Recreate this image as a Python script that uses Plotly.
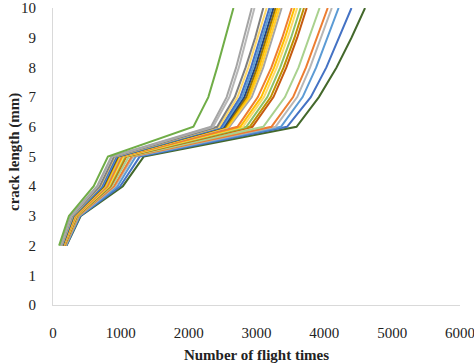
import plotly.graph_objects as go

crack_mm = [2, 3, 4, 5, 6, 7, 8, 9, 10]

s01 = [90, 235, 600, 810, 2070, 2290, 2420, 2540, 2660]
s02 = [110, 260, 650, 860, 2330, 2560, 2700, 2820, 2930]
s03 = [115, 270, 660, 870, 2360, 2600, 2740, 2860, 2970]
s04 = [120, 280, 690, 900, 2420, 2680, 2840, 2980, 3100]
s05 = [125, 285, 700, 910, 2450, 2720, 2880, 3020, 3150]
s06 = [130, 290, 720, 930, 2480, 2760, 2920, 3060, 3190]
s07 = [130, 295, 730, 940, 2500, 2790, 2950, 3090, 3220]
s08 = [135, 300, 740, 950, 2520, 2820, 2980, 3120, 3250]
s09 = [140, 305, 750, 960, 2540, 2850, 3010, 3150, 3280]
s10 = [140, 310, 760, 970, 2560, 2880, 3040, 3180, 3310]
s11 = [145, 315, 770, 980, 2580, 2900, 3070, 3210, 3340]
s12 = [150, 320, 780, 990, 2600, 2930, 3100, 3240, 3370]
s13 = [155, 330, 800, 1010, 2720, 3020, 3220, 3380, 3520]
s14 = [155, 335, 810, 1020, 2760, 3070, 3260, 3420, 3560]
s15 = [160, 340, 820, 1040, 2800, 3110, 3300, 3460, 3600]
s16 = [160, 345, 830, 1050, 2850, 3160, 3350, 3510, 3650]
s17 = [165, 350, 840, 1070, 2900, 3210, 3400, 3560, 3700]
s18 = [170, 355, 850, 1080, 2940, 3250, 3440, 3600, 3740]
s19 = [175, 365, 870, 1120, 3100, 3420, 3620, 3780, 3930]
s20 = [180, 375, 900, 1160, 3220, 3540, 3730, 3890, 4050]
s21 = [185, 380, 920, 1180, 3280, 3600, 3790, 3950, 4110]
s22 = [190, 390, 950, 1220, 3360, 3680, 3880, 4050, 4210]
s23 = [195, 400, 990, 1280, 3450, 3800, 4030, 4220, 4400]
s24 = [200, 410, 1030, 1340, 3590, 3920, 4180, 4400, 4600]

series = [s24, s23, s22, s21, s20, s19, s18, s17, s16, s15, s14, s13,
          s12, s11, s10, s09, s08, s07, s06, s05, s04, s03, s02, s01]
colors = ["#43682B", "#4472C4", "#5B9BD5", "#B7B7B7", "#ED7D31", "#A9D18E",
          "#C55A11", "#BF9000", "#8CC168", "#FFD966", "#FFC000", "#ED7D31",
          "#A5A5A5", "#FFCD33", "#FFC000", "#997300", "#264478", "#5B9BD5",
          "#4472C4", "#FFD966", "#7F7F7F", "#B7B7B7", "#A5A5A5", "#70AD47"]

x_ticks = [0, 1000, 2000, 3000, 4000, 5000, 6000]
y_ticks = [0, 1, 2, 3, 4, 5, 6, 7, 8, 9, 10]

fig = go.Figure()
for xs, c in zip(series, colors):
    fig.add_trace(go.Scatter(x=xs, y=crack_mm, mode="lines",
                             line=dict(color=c, width=2), showlegend=False,
                             hoverinfo="skip"))

font = dict(family="Liberation Serif, Times New Roman, serif", size=15, color="#222")
fig.update_layout(
    width=474, height=363,
    margin=dict(l=53, r=14, t=8, b=58),
    paper_bgcolor="white", plot_bgcolor="white",
    font=font,
    xaxis=dict(range=[0, 6000], tickvals=x_ticks, showgrid=False, zeroline=False,
               showline=True, linecolor="#D9D9D9", linewidth=1, ticks="",
               ticklabelstandoff=14, automargin=False, ticklabeloverflow="allow",
               title=dict(text="<b>Number of flight times</b>", standoff=10,
                          font=dict(size=15))),
    yaxis=dict(range=[0, 10], tickvals=y_ticks, showgrid=False, zeroline=False,
               showline=True, linecolor="#D9D9D9", linewidth=1, ticks="",
               ticklabelstandoff=13, automargin=False, ticklabeloverflow="allow"),
    annotations=[dict(text="<b>crack length (mm)</b>", textangle=-90,
                      xref="paper", yref="paper", x=-0.096, y=0.515,
                      xanchor="center", yanchor="middle", showarrow=False,
                      font=dict(size=15))],
)

fig.write_html("out.html", config={"displayModeBar": False},
               post_script="document.body.style.margin='0';document.body.style.overflow='hidden';")
